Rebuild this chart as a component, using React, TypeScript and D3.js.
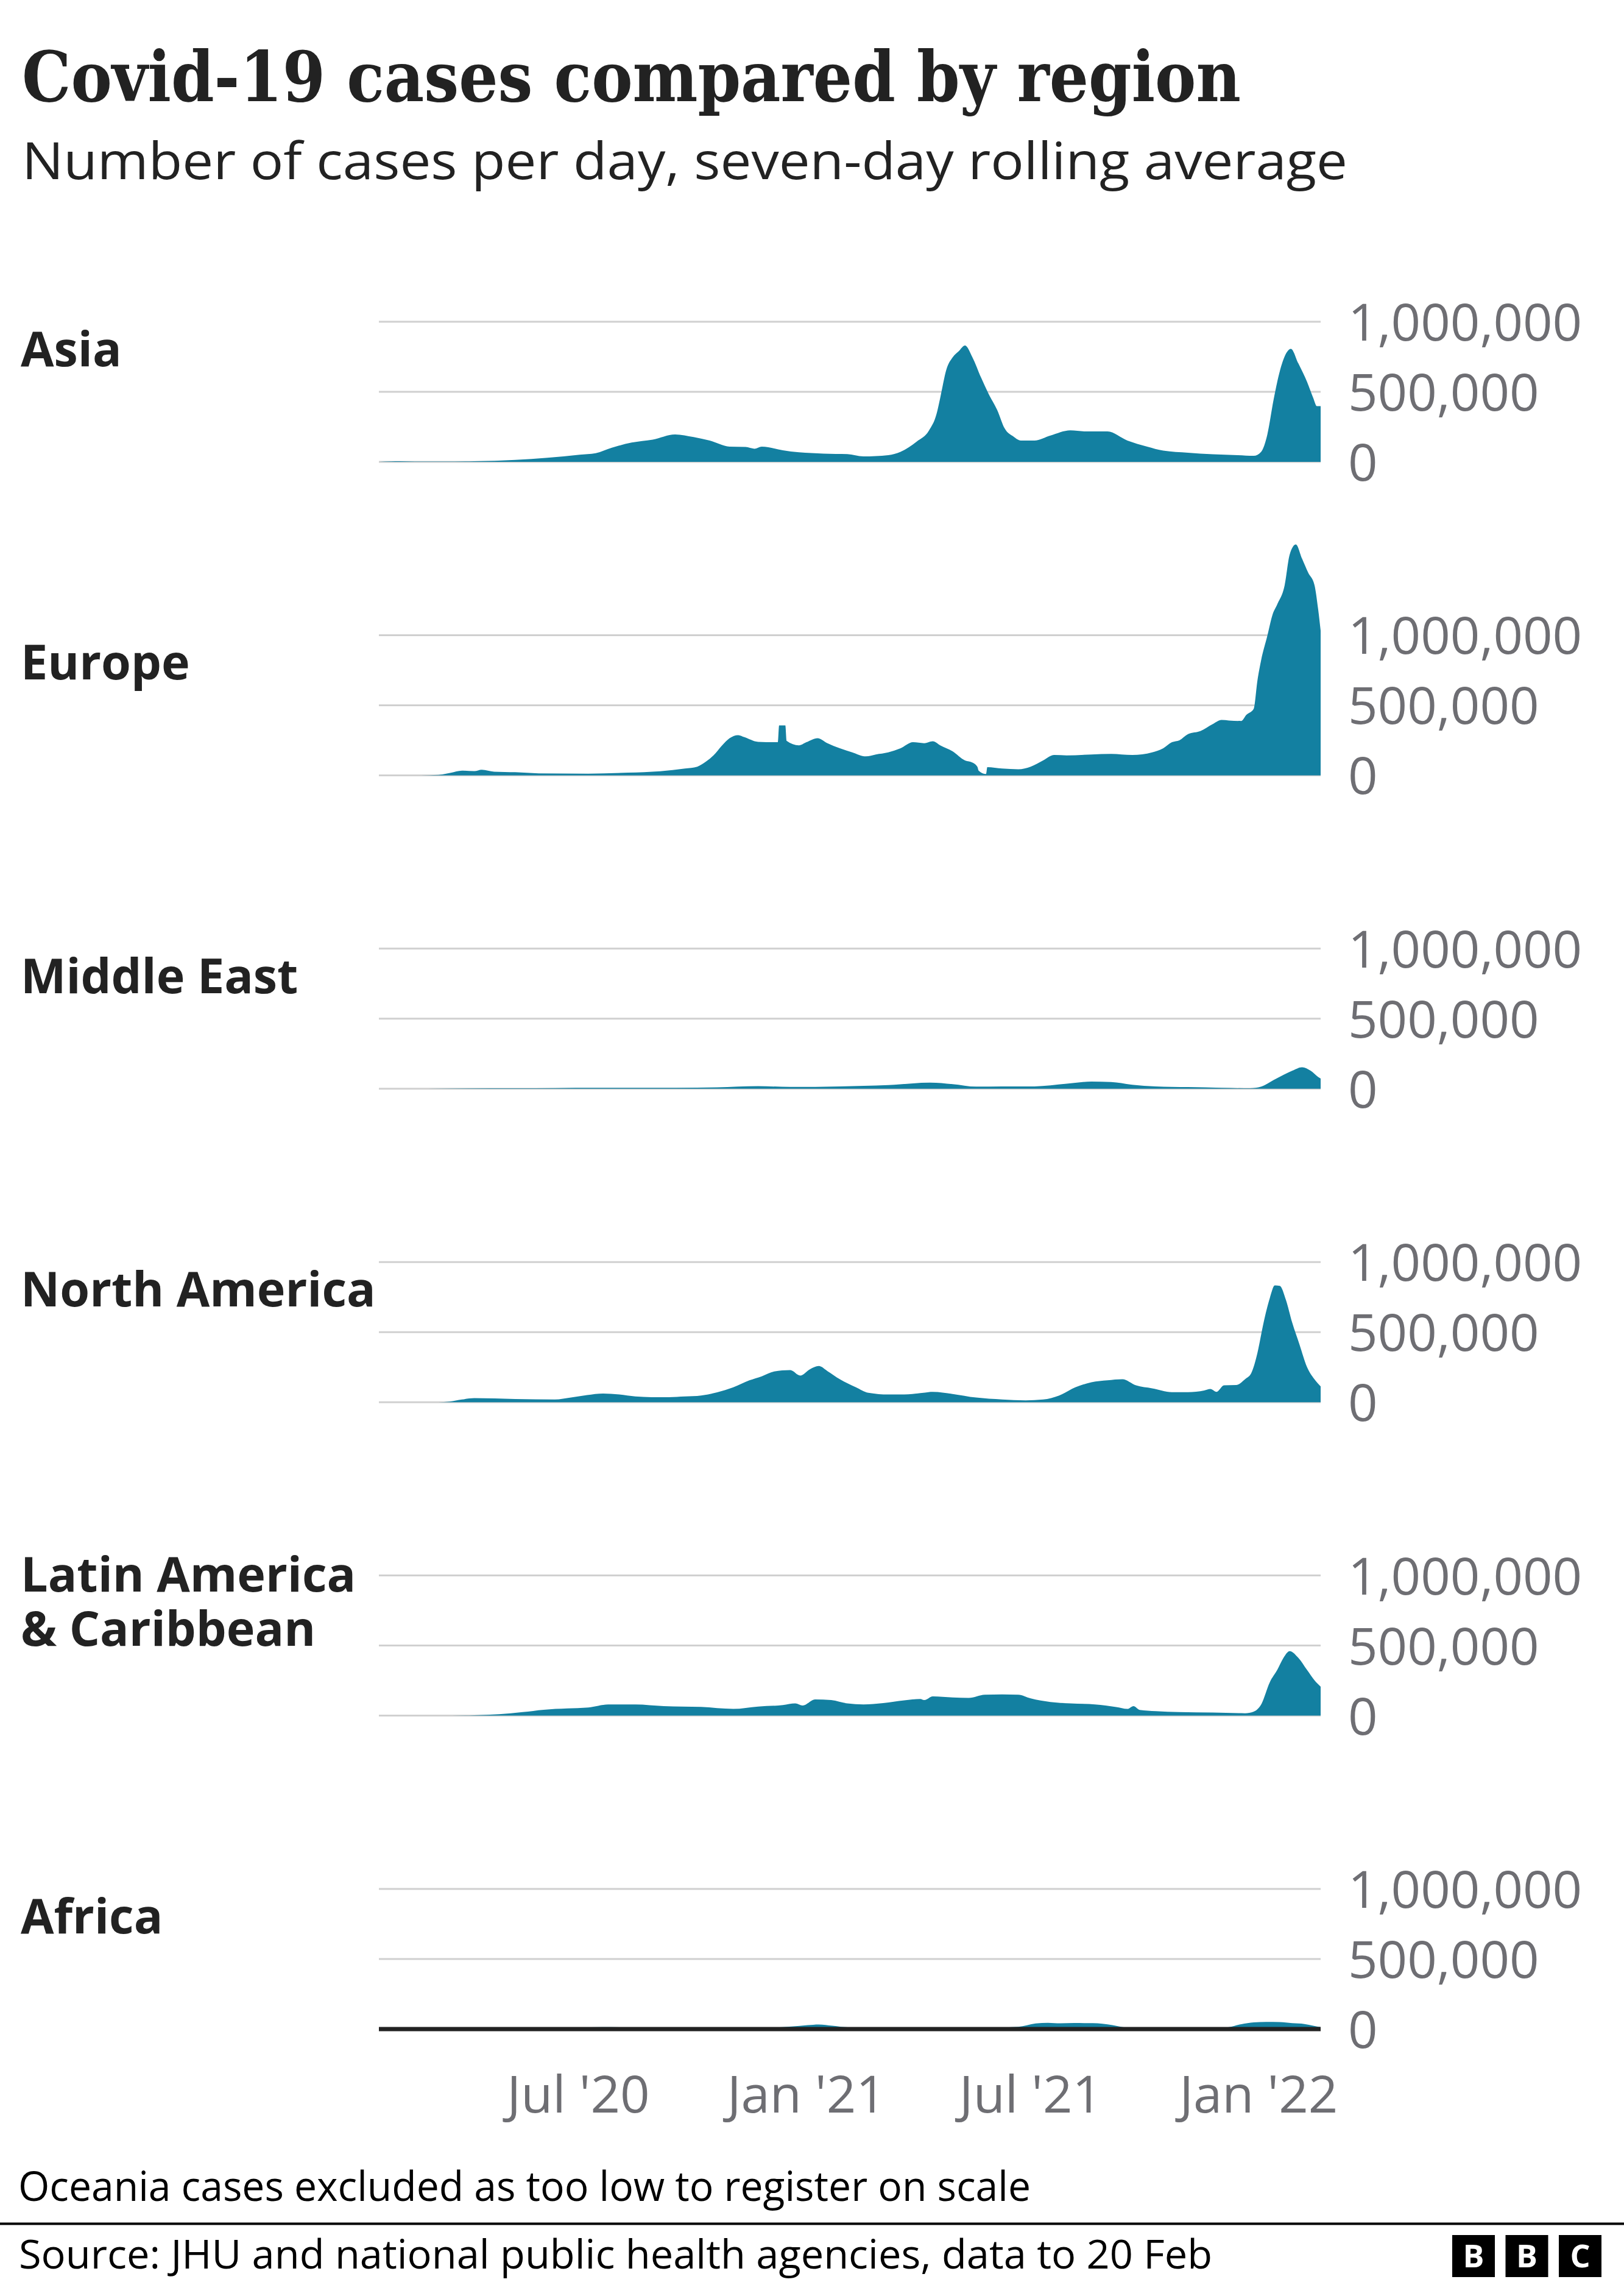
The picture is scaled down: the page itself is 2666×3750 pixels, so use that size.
import React, { useEffect } from "react";
import * as d3 from "d3";

// Seven-day rolling average of new cases per day, in thousands
const asiaCases: [string, number][] = [
  ["2020-01-22", 0], ["2020-02-01", 3], ["2020-02-08", 4], ["2020-02-20", 2],
  ["2020-03-15", 2], ["2020-04-08", 4], ["2020-05-11", 14], ["2020-06-06", 29],
  ["2020-07-02", 51], ["2020-07-15", 62], ["2020-07-28", 101], ["2020-08-13", 138],
  ["2020-08-30", 159], ["2020-09-17", 196], ["2020-10-02", 177], ["2020-10-15", 152],
  ["2020-10-31", 109], ["2020-11-13", 106], ["2020-11-20", 94], ["2020-11-26", 109],
  ["2020-12-13", 83], ["2020-12-26", 68], ["2021-01-15", 59], ["2021-02-03", 55],
  ["2021-02-16", 39], ["2021-03-08", 48], ["2021-03-18", 72], ["2021-03-31", 145],
  ["2021-04-10", 225], ["2021-04-16", 341], ["2021-04-19", 457], ["2021-04-24", 660],
  ["2021-04-29", 746], ["2021-05-04", 790], ["2021-05-09", 830], ["2021-05-15", 746],
  ["2021-05-22", 601], ["2021-05-28", 486], ["2021-06-04", 370], ["2021-06-10", 239],
  ["2021-06-17", 181], ["2021-06-23", 152], ["2021-07-04", 152], ["2021-07-17", 188],
  ["2021-08-02", 225], ["2021-08-15", 217], ["2021-09-01", 217], ["2021-09-17", 152],
  ["2021-10-03", 109], ["2021-10-16", 80], ["2021-11-05", 65], ["2021-11-25", 54],
  ["2021-12-15", 48], ["2021-12-28", 43], ["2022-01-03", 72], ["2022-01-08", 196],
  ["2022-01-13", 442], ["2022-01-16", 572], ["2022-01-21", 732], ["2022-01-27", 807],
  ["2022-02-02", 703], ["2022-02-09", 572], ["2022-02-14", 457], ["2022-02-17", 398],
  ["2022-02-20", 398],
];

const europeCases: [string, number][] = [
  ["2020-01-22", 0], ["2020-02-25", 0], ["2020-03-10", 3], ["2020-03-20", 18],
  ["2020-03-29", 33], ["2020-04-08", 30], ["2020-04-14", 40], ["2020-04-24", 26],
  ["2020-05-11", 22], ["2020-05-30", 14], ["2020-07-09", 12], ["2020-08-10", 19],
  ["2020-09-05", 29], ["2020-09-25", 48], ["2020-10-05", 62], ["2020-10-12", 98],
  ["2020-10-18", 142], ["2020-10-25", 214], ["2020-10-31", 265], ["2020-11-07", 287],
  ["2020-11-12", 272], ["2020-11-23", 239], ["2020-12-09", 236], ["2020-12-10", 356],
  ["2020-12-15", 356], ["2020-12-16", 246], ["2020-12-26", 214], ["2021-01-01", 236],
  ["2021-01-10", 265], ["2021-01-18", 229], ["2021-01-28", 193], ["2021-02-07", 164],
  ["2021-02-18", 135], ["2021-02-26", 149], ["2021-03-08", 164], ["2021-03-18", 193],
  ["2021-03-28", 236], ["2021-04-06", 229], ["2021-04-13", 243], ["2021-04-19", 214],
  ["2021-04-29", 171], ["2021-05-09", 106], ["2021-05-15", 91], ["2021-05-19", 60],
  ["2021-05-20", 33], ["2021-05-26", 9], ["2021-05-27", 58], ["2021-06-08", 48],
  ["2021-06-21", 43], ["2021-07-01", 62], ["2021-07-11", 106], ["2021-07-20", 145],
  ["2021-07-30", 142], ["2021-08-19", 149], ["2021-09-04", 153], ["2021-09-21", 145],
  ["2021-10-07", 164], ["2021-10-16", 193], ["2021-10-23", 236], ["2021-10-29", 250],
  ["2021-11-05", 294], ["2021-11-15", 316], ["2021-11-25", 366], ["2021-12-02", 395],
  ["2021-12-08", 391], ["2021-12-18", 388], ["2021-12-22", 431], ["2021-12-28", 475],
  ["2021-12-31", 677], ["2022-01-03", 822], ["2022-01-08", 996], ["2022-01-12", 1141],
  ["2022-01-16", 1220], ["2022-01-22", 1358], ["2022-01-26", 1575], ["2022-01-31", 1647],
  ["2022-02-05", 1546], ["2022-02-10", 1445], ["2022-02-15", 1358], ["2022-02-18", 1184],
  ["2022-02-20", 1032],
];

const middleEastCases: [string, number][] = [
  ["2020-01-22", 0], ["2020-03-01", 0], ["2020-04-01", 2], ["2020-05-11", 3],
  ["2020-07-15", 7], ["2020-09-18", 7], ["2020-10-21", 10], ["2020-11-23", 19],
  ["2020-12-19", 13], ["2021-01-28", 17], ["2021-03-08", 26], ["2021-04-11", 44],
  ["2021-04-29", 33], ["2021-05-18", 15], ["2021-06-08", 16], ["2021-07-04", 17],
  ["2021-07-30", 36], ["2021-08-19", 51], ["2021-09-04", 48], ["2021-09-21", 29],
  ["2021-10-10", 17], ["2021-11-05", 12], ["2021-12-02", 7], ["2021-12-25", 3],
  ["2022-01-03", 15], ["2022-01-13", 62], ["2022-01-21", 99], ["2022-01-28", 128],
  ["2022-02-05", 154], ["2022-02-12", 128], ["2022-02-18", 84], ["2022-02-20", 73],
];

const northAmericaCases: [string, number][] = [
  ["2020-01-22", 0], ["2020-03-10", 0], ["2020-03-19", 4], ["2020-03-29", 19],
  ["2020-04-08", 29], ["2020-05-11", 23], ["2020-06-12", 19], ["2020-06-25", 33],
  ["2020-07-08", 51], ["2020-07-21", 62], ["2020-08-03", 55], ["2020-08-16", 41],
  ["2020-08-29", 36], ["2020-09-12", 36], ["2020-09-25", 41], ["2020-10-08", 48],
  ["2020-10-21", 70], ["2020-11-03", 106], ["2020-11-16", 156], ["2020-11-26", 185],
  ["2020-12-06", 219], ["2020-12-19", 229], ["2020-12-27", 190], ["2021-01-04", 236],
  ["2021-01-11", 258], ["2021-01-18", 222], ["2021-01-28", 164], ["2021-02-10", 106],
  ["2021-02-20", 67], ["2021-03-08", 55], ["2021-03-21", 55], ["2021-04-03", 65],
  ["2021-04-13", 74], ["2021-04-29", 59], ["2021-05-18", 33], ["2021-06-08", 19],
  ["2021-06-27", 13], ["2021-07-11", 19], ["2021-07-24", 48], ["2021-08-06", 106],
  ["2021-08-19", 142], ["2021-09-01", 156], ["2021-09-13", 164], ["2021-09-24", 120],
  ["2021-10-07", 99], ["2021-10-23", 72], ["2021-11-05", 72], ["2021-11-18", 84],
  ["2021-11-23", 94], ["2021-11-28", 74], ["2021-12-04", 120], ["2021-12-14", 123],
  ["2021-12-21", 164], ["2021-12-26", 207], ["2021-12-31", 352], ["2022-01-05", 569],
  ["2022-01-10", 743], ["2022-01-14", 833], ["2022-01-18", 830], ["2022-01-23", 729],
  ["2022-01-28", 569], ["2022-02-03", 410], ["2022-02-09", 251], ["2022-02-15", 164],
  ["2022-02-20", 113],
];

const latinAmericaCases: [string, number][] = [
  ["2020-01-22", 0], ["2020-03-10", 0], ["2020-04-08", 3], ["2020-04-28", 10],
  ["2020-05-17", 25], ["2020-06-03", 42], ["2020-06-22", 51], ["2020-07-09", 58],
  ["2020-07-25", 80], ["2020-08-16", 80], ["2020-09-08", 68], ["2020-10-08", 62],
  ["2020-11-03", 48], ["2020-11-23", 65], ["2020-12-13", 75], ["2020-12-23", 87],
  ["2020-12-29", 72], ["2021-01-08", 116], ["2021-01-21", 111], ["2021-02-03", 87],
  ["2021-02-16", 80], ["2021-03-04", 90], ["2021-03-21", 109], ["2021-04-03", 119],
  ["2021-04-06", 111], ["2021-04-13", 137], ["2021-04-29", 130], ["2021-05-12", 126],
  ["2021-05-25", 149], ["2021-06-08", 152], ["2021-06-21", 149], ["2021-07-01", 123],
  ["2021-07-17", 97], ["2021-08-02", 87], ["2021-08-22", 80], ["2021-09-08", 61],
  ["2021-09-17", 48], ["2021-09-22", 68], ["2021-09-27", 41], ["2021-10-10", 32],
  ["2021-10-29", 25], ["2021-11-25", 22], ["2021-12-21", 17], ["2021-12-28", 29],
  ["2022-01-03", 80], ["2022-01-10", 239], ["2022-01-16", 326], ["2022-01-21", 412],
  ["2022-01-26", 460], ["2022-02-02", 412], ["2022-02-09", 326], ["2022-02-15", 253],
  ["2022-02-20", 207],
];

const africaCases: [string, number][] = [
  ["2020-01-22", 0], ["2020-05-01", 2], ["2020-06-15", 8], ["2020-07-20", 14],
  ["2020-09-01", 10], ["2020-10-15", 6], ["2020-12-01", 10], ["2020-12-20", 18],
  ["2021-01-02", 28], ["2021-01-11", 33], ["2021-01-22", 24], ["2021-02-05", 12],
  ["2021-03-15", 8], ["2021-05-01", 8], ["2021-06-01", 10], ["2021-06-21", 16],
  ["2021-07-05", 40], ["2021-07-15", 45], ["2021-07-25", 41], ["2021-08-05", 43],
  ["2021-08-20", 42], ["2021-09-05", 28], ["2021-09-15", 12], ["2021-10-15", 6],
  ["2021-11-25", 5], ["2021-12-08", 14], ["2021-12-18", 35], ["2021-12-28", 48],
  ["2022-01-07", 51], ["2022-01-18", 50], ["2022-01-28", 42], ["2022-02-07", 36],
  ["2022-02-14", 24], ["2022-02-20", 14],
];

const regionLabels: string[][] = [
  ["Asia"],
  ["Europe"],
  ["Middle East"],
  ["North America"],
  ["Latin America", "& Caribbean"],
  ["Africa"],
];
const regionSeries = [
  asiaCases,
  europeCases,
  middleEastCases,
  northAmericaCases,
  latinAmericaCases,
  africaCases,
];

const yTicks = [0, 500000, 1000000];
const xTicks = ["2020-07-01", "2021-01-01", "2021-07-01", "2022-01-01"];
const dateRange = ["2020-01-22", "2022-02-20"];

const W = 2666;
const H = 3750;
const LEFT = 622;
const RIGHT = 2168;
const FIRST_ZERO = 758;
const PANEL_STEP = 514.4;
const PANEL_H = 230;

const SANS = "'Open Sans', 'Noto Sans', sans-serif";
const BLUE = "#1380a1";
const GRID = "#d0d0d0";
const AXIS_TEXT = "#6e6e73";

const parse = d3.utcParse("%Y-%m-%d");
const fmtTick = d3.format(",");
const fmtDate = d3.utcFormat("%b '%y");

export default function App() {
  useEffect(() => {
    document.body.style.margin = "0";
  }, []);

  const x = d3
    .scaleUtc()
    .domain(dateRange.map((d) => parse(d) as Date))
    .range([LEFT, RIGHT]);

  const panels = regionSeries.map((series, i) => {
    const zero = FIRST_ZERO + PANEL_STEP * i;
    const y = d3.scaleLinear().domain([0, 1000000]).range([zero, zero - PANEL_H]);
    const area = d3
      .area<[string, number]>()
      .x((d) => x(parse(d[0]) as Date))
      .y0(y(0))
      .y1((d) => y(d[1] * 1000))
      .curve(d3.curveMonotoneX);
    return { series, y, area, zero, top: y(1000000), labels: regionLabels[i] };
  });

  const lastZero = panels[panels.length - 1].zero;

  return (
    <svg width={W} height={H} style={{ display: "block", background: "#fff" }}>
      <text
        x={36}
        y={166}
        fontFamily="'DejaVu Serif', serif"
        fontWeight={700}
        fontSize={114}
        fill="#222"
        textLength={2001}
        lengthAdjust="spacingAndGlyphs"
      >
        Covid-19 cases compared by region
      </text>
      <text
        x={36}
        y={294}
        fontFamily={SANS}
        fontSize={84}
        fill="#222"
        textLength={2176}
        lengthAdjust="spacingAndGlyphs"
      >
        Number of cases per day, seven-day rolling average
      </text>

      {panels.map((p, i) => (
        <g key={i}>
          {yTicks.map((t) => (
            <line
              key={t}
              x1={LEFT}
              x2={RIGHT}
              y1={p.y(t)}
              y2={p.y(t)}
              stroke={GRID}
              strokeWidth={3}
            />
          ))}
          <path d={p.area(p.series) ?? ""} fill={BLUE} />
          {yTicks.map((t) => (
            <text
              key={t}
              x={2213}
              y={p.y(t) + 31}
              fontFamily={SANS}
              fontSize={85}
              fill={AXIS_TEXT}
            >
              {fmtTick(t)}
            </text>
          ))}
          {p.labels.map((line, j) => (
            <text
              key={line}
              x={34}
              y={p.labels.length > 1 ? p.top + 26 + j * 89 : p.top + 73}
              fontFamily={SANS}
              fontWeight={700}
              fontSize={79}
              fill="#222"
            >
              {line}
            </text>
          ))}
        </g>
      ))}

      {/* x axis along the bottom panel */}
      <line x1={LEFT} x2={RIGHT} y1={lastZero} y2={lastZero} stroke="#222" strokeWidth={7} />
      {xTicks.map((t) => (
        <text
          key={t}
          x={x(parse(t) as Date)}
          y={3467}
          textAnchor="middle"
          fontFamily={SANS}
          fontSize={85}
          fill={AXIS_TEXT}
        >
          {fmtDate(parse(t) as Date)}
        </text>
      ))}

      <text
        x={30}
        y={3612}
        fontFamily={SANS}
        fontSize={67}
        fill="#000"
        textLength={1662}
        lengthAdjust="spacingAndGlyphs"
      >
        Oceania cases excluded as too low to register on scale
      </text>
      <line x1={0} x2={W} y1={3649.5} y2={3649.5} stroke="#000" strokeWidth={4} />
      <text
        x={31}
        y={3723}
        fontFamily={SANS}
        fontSize={66}
        fill="#000"
        textLength={1959}
        lengthAdjust="spacingAndGlyphs"
      >
        Source: JHU and national public health agencies, data to 20 Feb
      </text>

      {/* BBC blocks */}
      {["B", "B", "C"].map((letter, i) => {
        const bx = 2384 + i * 87.5;
        return (
          <g key={i}>
            <rect x={bx} y={3668} width={70} height={69} fill="#000" />
            <text
              x={bx + 35}
              y={3721}
              textAnchor="middle"
              fontFamily={SANS}
              fontWeight={700}
              fontSize={52}
              fill="#fff"
            >
              {letter}
            </text>
          </g>
        );
      })}
    </svg>
  );
}
